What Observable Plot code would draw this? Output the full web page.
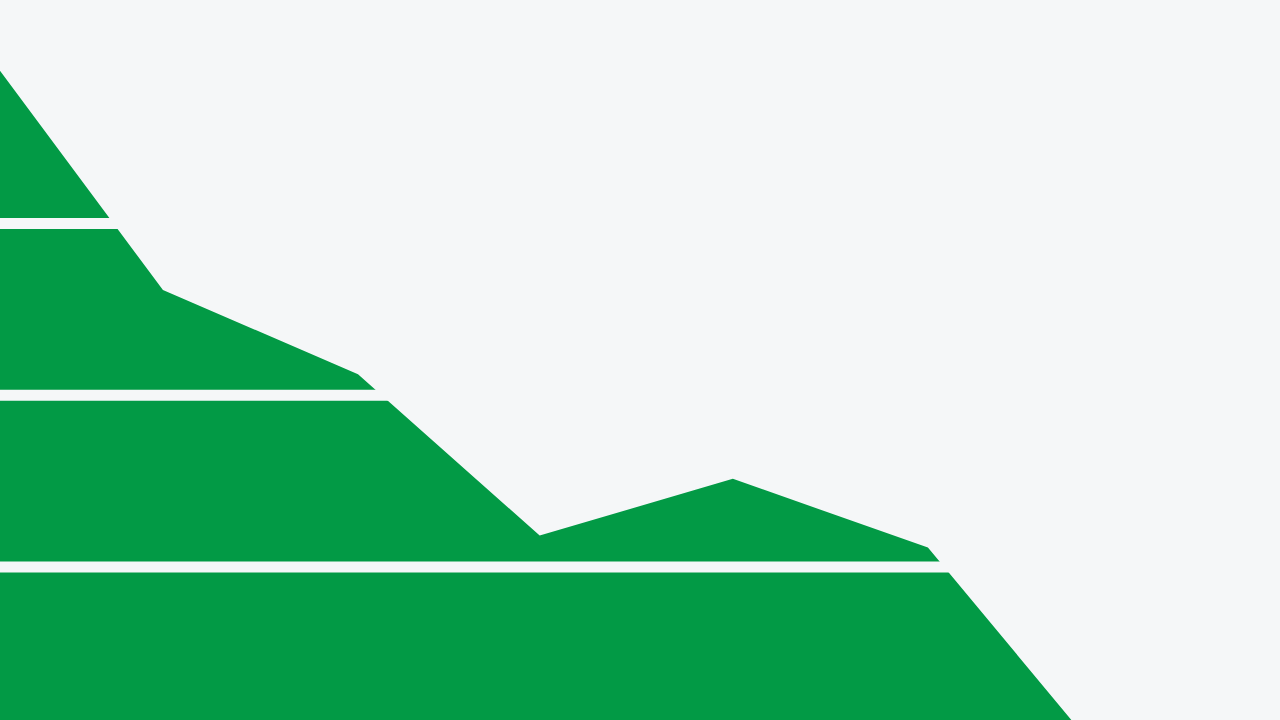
<!DOCTYPE html>
<html>
<head>
<meta charset="utf-8">
<script src="https://cdn.jsdelivr.net/npm/d3@7"></script>
<script src="https://cdn.jsdelivr.net/npm/@observablehq/plot@0.6"></script>
<style>
  html, body { margin: 0; padding: 0; background: #f5f7f8; overflow: hidden; }
  #chart svg { display: block; }
</style>
</head>
<body>
<div id="chart"></div>
<script>
// Data (a cropped, zoomed-in area chart)
const periods = [-1, 0, 1.02, 1.97, 2.98, 4, 5];
const values  = [51.1, 36.1, 31.2, 21.8, 25.1, 21.1, 7.7];
const gridValues = [20, 30, 40, 50];

const data = periods.map((p, i) => ({period: p, value: values[i]}));

const bg = "#f5f7f8";
const green = "#029a45";

const chart = Plot.plot({
  width: 1280,
  height: 720,
  margin: 0,
  style: {background: bg},
  x: {domain: [-0.852, 5.841], axis: null},
  y: {domain: [11.05, 53], axis: null},
  marks: [
    Plot.areaY(data, {x: "period", y: "value", fill: green, curve: "linear", clip: true}),
    Plot.ruleY(gridValues, {stroke: bg, strokeWidth: 11})
  ]
});
document.getElementById("chart").appendChild(chart);
</script>
</body>
</html>
